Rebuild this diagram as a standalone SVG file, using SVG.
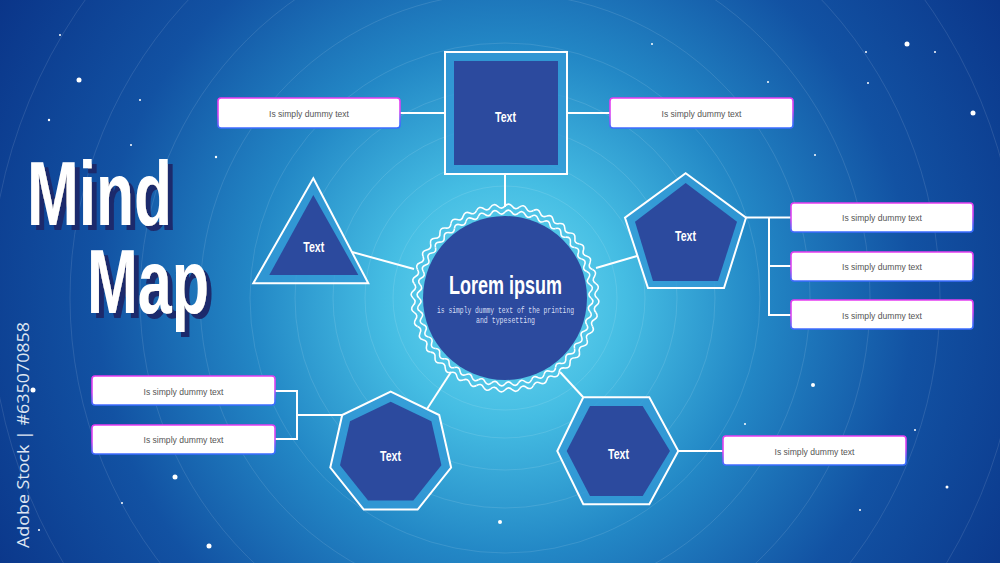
<svg xmlns="http://www.w3.org/2000/svg" width="1000" height="563" viewBox="0 0 1000 563">
<defs>
<radialGradient id="bg" gradientUnits="userSpaceOnUse" cx="505" cy="300" r="600">
<stop offset="0" stop-color="#6fdcf2"/>
<stop offset="0.2" stop-color="#45bde3"/>
<stop offset="0.42" stop-color="#2388c6"/>
<stop offset="0.68" stop-color="#1252a3"/>
<stop offset="1" stop-color="#0a3387"/>
</radialGradient>
<linearGradient id="bx" x1="0" y1="0" x2="0.15" y2="1">
<stop offset="0" stop-color="#e83cf0"/>
<stop offset="0.55" stop-color="#d845f2"/>
<stop offset="1" stop-color="#3a6cff"/>
</linearGradient>
<filter id="sh" x="-10%" y="-10%" width="130%" height="130%">
<feDropShadow dx="5" dy="5" stdDeviation="0" flood-color="#1c2a6c" flood-opacity="1"/>
</filter>
<path id="w0" d="M92,0 Q95.93,3.77 91.72,7.22 Q87.39,10.34 90.87,14.39 M86,0 Q89.93,3.53 85.74,6.75 Q81.43,9.64 84.94,13.45"/>
<g id="w1"><use href="#w0"/><use href="#w0" transform="rotate(9)"/></g>
<g id="w2"><use href="#w1"/><use href="#w1" transform="rotate(18)"/></g>
<g id="w3"><use href="#w2"/><use href="#w2" transform="rotate(36)"/></g>
</defs>
<style>
.ring{fill:none;stroke:#ffffff;stroke-opacity:0.11;stroke-width:1}
.star{fill:#ffffff}
.line{stroke:#ffffff;stroke-width:2;fill:none}
.outer{fill:#3399d6;fill-opacity:0.8;stroke:#ffffff;stroke-width:2}
.inner{fill:#2c4a9e}
.lbl{font-family:"Liberation Sans",Arial,sans-serif;font-weight:bold;font-size:15px;fill:#ffffff;text-anchor:middle}
.box{fill:#ffffff;stroke:url(#bx);stroke-width:1.6}
.bt{font-family:"Liberation Sans",Arial,sans-serif;font-size:9px;fill:#555555;text-anchor:middle}
.wave{fill:none;stroke:#ffffff;stroke-width:1.6}
.title{font-family:"Liberation Sans",Arial,sans-serif;font-weight:bold;font-size:90px;fill:#ffffff}
</style>
<rect width="1000" height="563" fill="url(#bg)"/>
<g id="rings">
<circle class="ring" cx="505" cy="298" r="112"/>
<circle class="ring" cx="505" cy="298" r="140"/>
<circle class="ring" cx="505" cy="298" r="172"/>
<circle class="ring" cx="505" cy="298" r="210"/>
<circle class="ring" cx="505" cy="298" r="255"/>
<circle class="ring" cx="505" cy="298" r="305"/>
<circle class="ring" cx="505" cy="298" r="365"/>
<circle class="ring" cx="505" cy="298" r="435"/>
<circle class="ring" cx="505" cy="298" r="515"/>
</g>
<g id="stars">
<circle class="star" cx="79" cy="80" r="2.5"/>
<circle class="star" cx="60" cy="35" r="1"/>
<circle class="star" cx="49" cy="120" r="1.2"/>
<circle class="star" cx="131" cy="145" r="1"/>
<circle class="star" cx="216" cy="157" r="1.2"/>
<circle class="star" cx="140" cy="100" r="1"/>
<circle class="star" cx="907" cy="44" r="2.5"/>
<circle class="star" cx="973" cy="113" r="2.5"/>
<circle class="star" cx="935" cy="52" r="1"/>
<circle class="star" cx="866" cy="52" r="1"/>
<circle class="star" cx="768" cy="82" r="1"/>
<circle class="star" cx="815" cy="155" r="1"/>
<circle class="star" cx="868" cy="83" r="1"/>
<circle class="star" cx="652" cy="44" r="1"/>
<circle class="star" cx="33" cy="390" r="2.5"/>
<circle class="star" cx="175" cy="477" r="2.5"/>
<circle class="star" cx="209" cy="546" r="2.5"/>
<circle class="star" cx="122" cy="503" r="1"/>
<circle class="star" cx="813" cy="385" r="2"/>
<circle class="star" cx="947" cy="487" r="1.5"/>
<circle class="star" cx="500" cy="522" r="2"/>
<circle class="star" cx="745" cy="424" r="1"/>
<circle class="star" cx="860" cy="510" r="1"/>
<circle class="star" cx="915" cy="430" r="1"/>
<circle class="star" cx="39" cy="530" r="1"/>
</g>
<g id="connectors">
<line class="line" x1="445" y1="113" x2="400" y2="113"/>
<line class="line" x1="567" y1="113" x2="610" y2="113"/>
<line class="line" x1="505" y1="174" x2="505" y2="207"/>
<line class="line" x1="352" y1="252" x2="414" y2="269"/>
<line class="line" x1="596" y1="268" x2="637" y2="256"/>
<polyline class="line" points="746,217.5 791,217.5"/>
<polyline class="line" points="769,217.5 769,315 791,315"/>
<line class="line" x1="769" y1="266" x2="791" y2="266"/>
<polyline class="line" points="275,391 297,391 297,439 275,439"/>
<line class="line" x1="297" y1="415" x2="342" y2="415"/>
<line class="line" x1="451" y1="372" x2="427" y2="409"/>
<line class="line" x1="560" y1="372" x2="583" y2="397"/>
<line class="line" x1="678" y1="451" x2="723" y2="451"/>
</g>
<g id="center">
<g class="wave" transform="translate(505,298)">
<use href="#w3"/>
<use href="#w3" transform="rotate(72)"/>
<use href="#w3" transform="rotate(144)"/>
<use href="#w3" transform="rotate(216)"/>
<use href="#w3" transform="rotate(288)"/>
</g>
<circle class="inner" cx="505" cy="298" r="82"/>
<text x="505.5" y="294" font-family="'Liberation Sans',Arial,sans-serif" font-size="26" font-weight="bold" fill="#ffffff" text-anchor="middle" textLength="113" lengthAdjust="spacingAndGlyphs">Lorem ipsum</text>
<text x="505.5" y="312.5" font-family="'Liberation Mono','DejaVu Sans Mono',monospace" font-size="8.5" fill="#d6def4" text-anchor="middle" textLength="137" lengthAdjust="spacingAndGlyphs">is simply dummy text of the printing</text>
<text x="505.5" y="323" font-family="'Liberation Mono','DejaVu Sans Mono',monospace" font-size="8.5" fill="#d6def4" text-anchor="middle" textLength="59" lengthAdjust="spacingAndGlyphs">and typesetting</text>
</g>
<g id="node-square">
<rect class="outer" x="445" y="52" width="122" height="122"/>
<rect class="inner" x="454" y="61" width="104" height="104"/>
<text class="lbl" x="505.5" y="121.7" textLength="21" lengthAdjust="spacingAndGlyphs">Text</text>
</g>
<g id="node-triangle">
<polygon class="outer" points="313.3,178.3 368.3,283.3 253.3,283.3"/>
<polygon class="inner" points="313.3,195 358.3,275 269.3,275"/>
<text class="lbl" x="313.7" y="251.7" textLength="21" lengthAdjust="spacingAndGlyphs">Text</text>
</g>
<g id="node-pentagon">
<polygon class="outer" points="685.7,173.3 746,217.7 724,288 648,288 625,217.7"/>
<polygon class="inner" points="685.7,183 737,221.7 718,281 653,281 635,221.7"/>
<text class="lbl" x="685.5" y="240.7" textLength="21" lengthAdjust="spacingAndGlyphs">Text</text>
</g>
<g id="node-heptagon">
<polygon class="outer" points="390.7,391.7 439.2,415 451.1,467.5 417.6,509.6 363.8,509.6 330.3,467.5 342.2,415"/>
<polygon class="inner" points="390.7,401.7 431.4,421.3 441.4,465.3 413.3,500.6 368.1,500.6 340,465.3 350,421.3"/>
<text class="lbl" x="390.5" y="460.7" textLength="21" lengthAdjust="spacingAndGlyphs">Text</text>
</g>
<g id="node-hexagon">
<polygon class="outer" points="583.3,397.3 649.3,397.3 678.3,451 649.3,504.3 583.3,504.3 557.3,451"/>
<polygon class="inner" points="590,406 642.7,406 670,451 642.7,496 590,496 566.7,451"/>
<text class="lbl" x="618.5" y="459.3" textLength="21" lengthAdjust="spacingAndGlyphs">Text</text>
</g>
<g id="box-top-left"><rect class="box" x="218" y="98" width="182" height="30" rx="3"/><text class="bt" x="309" y="116.5" textLength="80" lengthAdjust="spacingAndGlyphs">Is simply dummy text</text></g>
<g id="box-top-right"><rect class="box" x="610" y="98" width="183" height="30" rx="3"/><text class="bt" x="701.5" y="116.5" textLength="80" lengthAdjust="spacingAndGlyphs">Is simply dummy text</text></g>
<g id="box-right-1"><rect class="box" x="791" y="203" width="182" height="29" rx="3"/><text class="bt" x="882" y="221" textLength="80" lengthAdjust="spacingAndGlyphs">Is simply dummy text</text></g>
<g id="box-right-2"><rect class="box" x="791" y="252" width="182" height="29" rx="3"/><text class="bt" x="882" y="269.5" textLength="80" lengthAdjust="spacingAndGlyphs">Is simply dummy text</text></g>
<g id="box-right-3"><rect class="box" x="791" y="300" width="182" height="29" rx="3"/><text class="bt" x="882" y="318.5" textLength="80" lengthAdjust="spacingAndGlyphs">Is simply dummy text</text></g>
<g id="box-left-1"><rect class="box" x="92" y="376" width="183" height="29" rx="3"/><text class="bt" x="183.5" y="394.5" textLength="80" lengthAdjust="spacingAndGlyphs">Is simply dummy text</text></g>
<g id="box-left-2"><rect class="box" x="92" y="425" width="183" height="29" rx="3"/><text class="bt" x="183.5" y="442.5" textLength="80" lengthAdjust="spacingAndGlyphs">Is simply dummy text</text></g>
<g id="box-bottom-right"><rect class="box" x="723" y="436" width="183" height="29" rx="3"/><text class="bt" x="814.5" y="454.5" textLength="80" lengthAdjust="spacingAndGlyphs">Is simply dummy text</text></g>
<g id="title" filter="url(#sh)">
<text class="title" x="27" y="225" textLength="145" lengthAdjust="spacingAndGlyphs">Mind</text>
<text class="title" x="87" y="313" textLength="122" lengthAdjust="spacingAndGlyphs">Map</text>
</g>
<text transform="translate(29,435) rotate(-90)" font-family="'Open Sans','Liberation Sans',sans-serif" font-size="16" fill="#dfe6f2" text-anchor="middle" textLength="226" lengthAdjust="spacingAndGlyphs">Adobe Stock | #635070858</text>
</svg>
